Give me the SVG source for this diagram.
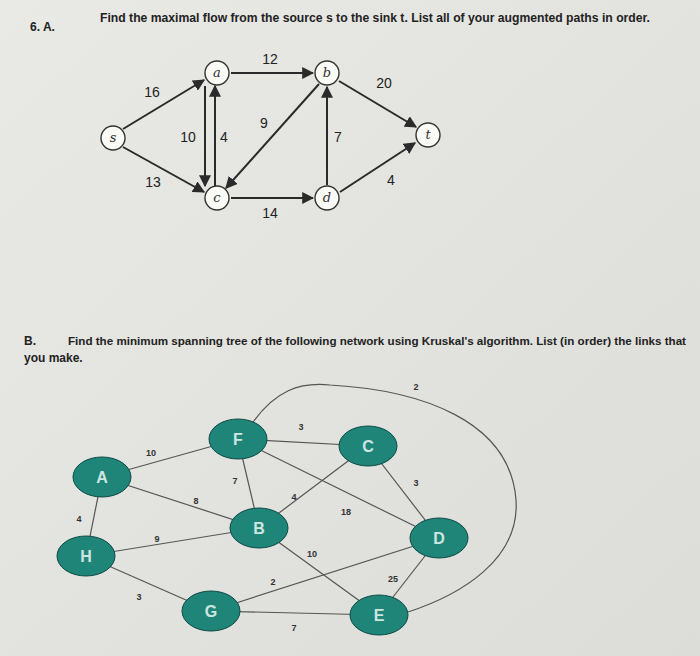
<svg xmlns="http://www.w3.org/2000/svg" width="700" height="656" viewBox="0 0 700 656">
<defs>
<marker id="ar" viewBox="0 0 10 10" refX="9" refY="5" markerWidth="6" markerHeight="6" orient="auto"><path d="M0,0 L10,5 L0,10 z" fill="#2a2a2a"/></marker>
<linearGradient id="bg" x1="0" y1="0" x2="1" y2="1"><stop offset="0" stop-color="#e9e9e6"/><stop offset="1" stop-color="#dcdcd8"/></linearGradient>
</defs>
<style>
.t{font-family:"Liberation Sans",Arial,sans-serif;fill:#222}
.q{font-size:12px;font-weight:bold}
.fn{fill:#fafaf7;stroke:#333;stroke-width:1.4}
.fl{font-family:"DejaVu Serif",serif;font-style:italic;font-size:13px;fill:#333;text-anchor:middle}
.fe{stroke:#2a2a2a;stroke-width:2;fill:none;marker-end:url(#ar)}
.gn{fill:#1f8579;stroke:#0e4a44;stroke-width:1}
.gl{font-family:"Liberation Sans",Arial,sans-serif;font-weight:bold;font-size:16px;fill:#cfe6e0;text-anchor:middle}
.ge{stroke:#555;stroke-width:1.2;fill:none}
.gw{font-family:"Liberation Sans",Arial,sans-serif;font-weight:bold;font-size:9px;fill:#333;text-anchor:middle}
</style>
<rect width="700" height="656" fill="url(#bg)"/>
<text class="t q" x="30" y="31">6.  A.</text>
<text class="t q" x="100" y="22" textLength="550" lengthAdjust="spacingAndGlyphs">Find the maximal flow from the source s to the sink t.  List all of your augmented paths in order.</text>
<text class="t q" x="24" y="345">B.</text>
<text class="t" font-size="11" font-weight="bold" x="68" y="345" textLength="618" lengthAdjust="spacingAndGlyphs">Find the minimum spanning tree of the following network using Kruskal's algorithm.  List (in order) the links that</text>
<text class="t q" x="24" y="362">you make.</text>

<g id="flow-edges">
<line class="fe" x1="123" y1="129" x2="204" y2="80"/>
<line class="fe" x1="123" y1="147" x2="204" y2="192"/>
<line class="fe" x1="231" y1="73" x2="313" y2="73"/>
<line class="fe" x1="205" y1="86" x2="205" y2="186"/>
<line class="fe" x1="215" y1="186" x2="215" y2="86"/>
<line class="fe" x1="319" y1="84" x2="226" y2="188"/>
<line class="fe" x1="231" y1="198" x2="313" y2="198"/>
<line class="fe" x1="327" y1="185" x2="327" y2="87"/>
<line class="fe" x1="339" y1="81" x2="416" y2="127"/>
<line class="fe" x1="340" y1="192" x2="415" y2="143"/>
</g>
<g class="t" font-size="14">
<text x="270" y="64" text-anchor="middle">12</text>
<text x="152" y="97" text-anchor="middle">16</text>
<text x="384" y="88" text-anchor="middle">20</text>
<text x="188" y="142" text-anchor="middle">10</text>
<text x="224" y="142" text-anchor="middle">4</text>
<text x="264" y="128" text-anchor="middle">9</text>
<text x="338" y="142" text-anchor="middle">7</text>
<text x="153" y="187" text-anchor="middle">13</text>
<text x="391" y="185" text-anchor="middle">4</text>
<text x="270" y="218" text-anchor="middle">14</text>
</g>
<g id="node-s"><circle class="fn" cx="113" cy="138" r="12"/><text class="fl" x="113" y="142">s</text></g>
<g id="node-a"><circle class="fn" cx="217" cy="73" r="12"/><text class="fl" x="217" y="77">a</text></g>
<g id="node-b"><circle class="fn" cx="327" cy="73" r="12"/><text class="fl" x="327" y="77">b</text></g>
<g id="node-t"><circle class="fn" cx="428" cy="135" r="12"/><text class="fl" x="428" y="139">t</text></g>
<g id="node-c"><circle class="fn" cx="217" cy="198" r="12"/><text class="fl" x="217" y="202">c</text></g>
<g id="node-d"><circle class="fn" cx="327" cy="198" r="12"/><text class="fl" x="327" y="202">d</text></g>

<g id="graph-edges">
<line class="ge" x1="238" y1="439" x2="368" y2="446"/>
<line class="ge" x1="102" y1="477" x2="238" y2="439"/>
<line class="ge" x1="238" y1="439" x2="259" y2="528"/>
<line class="ge" x1="102" y1="477" x2="259" y2="528"/>
<line class="ge" x1="102" y1="477" x2="86" y2="556"/>
<line class="ge" x1="86" y1="556" x2="259" y2="528"/>
<line class="ge" x1="259" y1="528" x2="368" y2="446"/>
<line class="ge" x1="238" y1="439" x2="439" y2="538"/>
<line class="ge" x1="368" y1="446" x2="439" y2="538"/>
<line class="ge" x1="259" y1="528" x2="379" y2="615"/>
<line class="ge" x1="211" y1="611" x2="439" y2="538"/>
<line class="ge" x1="86" y1="556" x2="211" y2="611"/>
<line class="ge" x1="211" y1="611" x2="379" y2="615"/>
<line class="ge" x1="439" y1="538" x2="379" y2="615"/>
<path class="ge" d="M251,425 C275,390 300,382 330,385 C420,390 510,420 516,500 C520,560 460,595 408,612"/>
</g>
<g>
<text class="gw" x="301" y="430">3</text>
<text class="gw" x="151" y="456">10</text>
<text class="gw" x="235" y="484">7</text>
<text class="gw" x="196" y="504">8</text>
<text class="gw" x="294" y="500">4</text>
<text class="gw" x="346" y="515">18</text>
<text class="gw" x="416" y="486">3</text>
<text class="gw" x="79" y="522">4</text>
<text class="gw" x="157" y="542">9</text>
<text class="gw" x="312" y="557">10</text>
<text class="gw" x="273" y="585">2</text>
<text class="gw" x="393" y="582">25</text>
<text class="gw" x="139" y="600">3</text>
<text class="gw" x="294" y="631">7</text>
<text class="gw" x="416" y="390">2</text>
</g>
<g id="node-F"><ellipse class="gn" cx="238" cy="439" rx="29" ry="20"/><text class="gl" x="238" y="445">F</text></g>
<g id="node-C"><ellipse class="gn" cx="368" cy="446" rx="29" ry="20"/><text class="gl" x="368" y="452">C</text></g>
<g id="node-A"><ellipse class="gn" cx="102" cy="477" rx="29" ry="20"/><text class="gl" x="102" y="483">A</text></g>
<g id="node-B"><ellipse class="gn" cx="259" cy="528" rx="29" ry="20"/><text class="gl" x="259" y="534">B</text></g>
<g id="node-D"><ellipse class="gn" cx="439" cy="538" rx="29" ry="20"/><text class="gl" x="439" y="544">D</text></g>
<g id="node-H"><ellipse class="gn" cx="86" cy="556" rx="29" ry="20"/><text class="gl" x="86" y="562">H</text></g>
<g id="node-G"><ellipse class="gn" cx="211" cy="611" rx="29" ry="20"/><text class="gl" x="211" y="617">G</text></g>
<g id="node-E"><ellipse class="gn" cx="379" cy="615" rx="29" ry="20"/><text class="gl" x="379" y="621">E</text></g>
</svg>
